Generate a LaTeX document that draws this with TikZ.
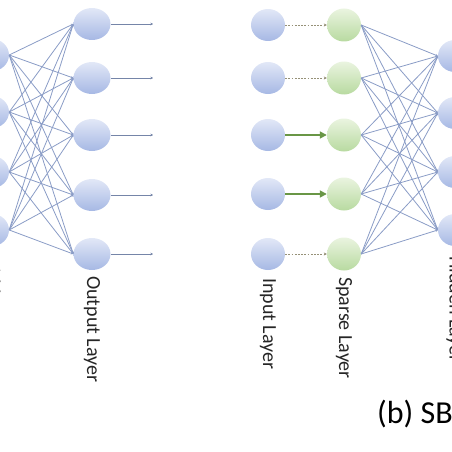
\documentclass[tikz,border=0pt]{standalone}
\usepackage{fontspec}
\setmainfont{Carlito}
\usetikzlibrary{shapes.geometric,arrows.meta}
\definecolor{bluetop}{RGB}{226,232,247}
\definecolor{bluebot}{RGB}{166,184,228}
\definecolor{greentop}{RGB}{234,244,224}
\definecolor{greenbot}{RGB}{184,218,160}
\definecolor{linkcol}{RGB}{138,156,198}
\definecolor{dashcol}{RGB}{150,145,120}
\definecolor{arrowgreen}{RGB}{105,150,70}
\tikzset{
  bnode/.style={shape=ellipse, minimum width=34pt, minimum height=32pt, inner sep=0pt,
    top color=bluetop, bottom color=bluebot, draw=none},
  onode/.style={bnode, minimum width=37pt, minimum height=32pt},
  gnode/.style={shape=ellipse, minimum width=34pt, minimum height=33pt, inner sep=0pt,
    top color=greentop, bottom color=greenbot, draw=none},
  link/.style={draw=linkcol, line width=0.8pt, -{Stealth[length=2.4pt,width=2.4pt]}},
  outlink/.style={draw=linkcol!85!black, line width=0.7pt, -{Stealth[length=2.6pt,width=2.6pt]}},
  dashlink/.style={draw=dashcol, line width=0.6pt, dash pattern=on 1.8pt off 1.4pt, -{Stealth[length=3pt,width=3pt]}},
  greenarrow/.style={draw=arrowgreen, line width=1.7pt, -{Triangle[length=7pt,width=7pt]}},
  layerlabel/.style={rotate=-90, anchor=west, inner sep=0pt, font=\fontsize{20}{24}\selectfont, text=black!85},
}
\begin{document}
\begin{tikzpicture}[x=1pt,y=-1pt]
\useasboundingbox (0,0) rectangle (452,452);
\clip (0,0) rectangle (452,452);
% ---------- left panel ----------
\foreach \i/\y in {1/55,2/112,3/172,4/230}{
  \node[bnode] (h\i) at (-8,\y) {};
}
\foreach \i/\y in {1/24,2/78,3/135,4/195,5/254}{
  \node[onode] (o\i) at (92,\y) {};
  \coordinate (oe\i) at (153,\y);
}
\foreach \i in {1,...,4}{
  \foreach \j in {1,...,5}{
    \draw[link] (h\i.east) -- (o\j.west);
  }
}
\foreach \j in {1,...,5}{
  \draw[outlink] (o\j.east) -- (oe\j);
}
\node[layerlabel] (lh) at (-8,256) {Hidden Layer};
\node[layerlabel] (lo) at (92,276) {Output Layer};
% ---------- right panel ----------
\foreach \i/\y in {1/25,2/78,3/135,4/194,5/254}{
  \node[bnode] (in\i) at (268,\y) {};
  \node[gnode] (s\i) at (344,\y) {};
}
\foreach \i/\y in {1/56,2/113,3/172,4/230}{
  \node[bnode] (r\i) at (455,\y) {};
}
\draw[dashlink] (in1.east) -- (s1.west);
\draw[dashlink] (in2.east) -- (s2.west);
\draw[greenarrow] (in3.east) -- (s3.west);
\draw[greenarrow] (in4.east) -- (s4.west);
\draw[dashlink] (in5.east) -- (s5.west);
\foreach \i in {1,...,5}{
  \foreach \j in {1,...,4}{
    \draw[link] (s\i.east) -- (r\j.west);
  }
}
\node[layerlabel] (li) at (268,278) {Input Layer};
\node[layerlabel] (ls) at (344,277) {Sparse Layer};
\node[layerlabel] (lr) at (455,256) {Hidden Layer};
\node[anchor=base west, inner sep=0pt, font=\fontsize{32}{36}\selectfont] (title) at (377,423) {(b) SB};
\end{tikzpicture}
\end{document}
